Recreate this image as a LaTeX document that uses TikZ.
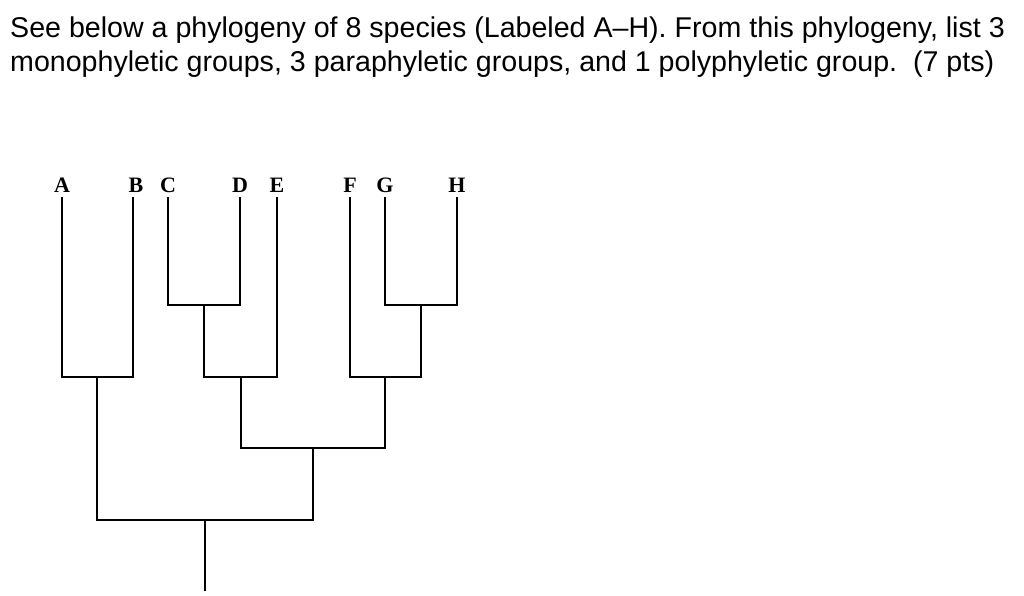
\documentclass[tikz,border=0pt]{standalone}
\usepackage{fontspec}
\setmainfont{Liberation Sans}
\newfontfamily\lblfont{Liberation Serif}
\begin{document}
\begin{tikzpicture}[x=1pt,y=-1pt,
  br/.style={line width=1.6pt, line cap=rect},
  tip/.style={font=\lblfont\bfseries\fontsize{22}{24}\selectfont, anchor=base, inner sep=0pt},
  q/.style={font=\fontsize{28.6}{34}\selectfont, anchor=base west, inner sep=0pt}]
\useasboundingbox (0,0) rectangle (1024,596);
\node[q] (t1) at (10,38) {See below a phylogeny of 8 species (Labeled A--H). From this phylogeny, list 3};
\node[q] (t2) at (10,72) {monophyletic groups, 3 paraphyletic groups, and 1 polyphyletic group.\ \ (7 pts)};
\foreach \n/\x in {A/62,B/136,C/168,D/240,E/277,F/350,G/385,H/457}{
  \node[tip] (\n) at (\x,192) {\n};
  \coordinate (\n t) at (\x,198);
}
\draw[br] (Ct) -- (168,305) -- (240,305) -- (Dt);
\draw[br] (Gt) -- (385,305) -- (457,305) -- (Ht);
\draw[br] (62,198) -- (62,377) -- (133,377) -- (133,198);
\draw[br] (204,305) -- (204,377) -- (277,377) -- (Et);
\draw[br] (421,305) -- (421,377) -- (350,377) -- (Ft);
\draw[br] (241,377) -- (241,448) -- (385,448) -- (385,377);
\draw[br] (97,377) -- (97,520) -- (313,520) -- (313,448);
\draw[br] (205,520) -- (205,590);
\end{tikzpicture}
\end{document}
